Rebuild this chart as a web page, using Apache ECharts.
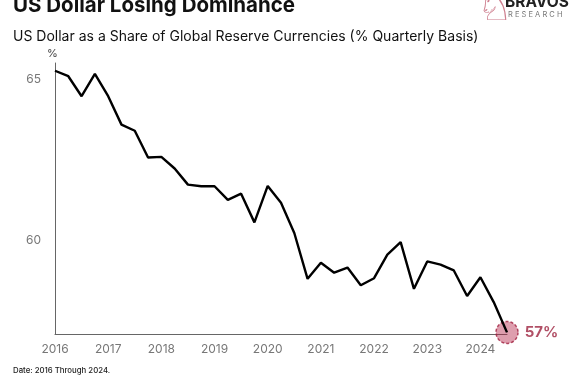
<!DOCTYPE html>
<html>
<head>
<meta charset="utf-8">
<script src="https://cdn.jsdelivr.net/npm/echarts@6/dist/echarts.min.js"></script>
<style>
  html, body { margin: 0; padding: 0; background: #fff; }
  #chart { width: 575px; height: 376px; }
</style>
</head>
<body>
<div id="chart"></div>
<script>
// quarterly share of global reserves held in USD (%)
const quarters = [
  '2016Q1', '2016Q2', '2016Q3', '2016Q4',
  '2017Q1', '2017Q2', '2017Q3', '2017Q4',
  '2018Q1', '2018Q2', '2018Q3', '2018Q4',
  '2019Q1', '2019Q2', '2019Q3', '2019Q4',
  '2020Q1', '2020Q2', '2020Q3', '2020Q4',
  '2021Q1', '2021Q2', '2021Q3', '2021Q4',
  '2022Q1', '2022Q2', '2022Q3', '2022Q4',
  '2023Q1', '2023Q2', '2023Q3', '2023Q4',
  '2024Q1', '2024Q2', '2024Q3'
]
const usdShare = [
  65.26, 65.09, 64.47, 65.16,
  64.47, 63.59, 63.40, 62.57,
  62.59, 62.23, 61.73, 61.68,
  61.68, 61.26, 61.45, 60.56,
  61.69, 61.17, 60.23, 58.81,
  59.31, 59.00, 59.16, 58.61,
  58.83, 59.56, 59.95, 58.50,
  59.35, 59.25, 59.07, 58.28,
  58.86, 58.09, 57.15
]
const yTicks = [60, 65]
const lastLabel = '57%'

const font = 'Inter, "Noto Sans", sans-serif'
const chart = echarts.init(document.getElementById('chart'))

const lastIdx = usdShare.length - 1

const option = {
  animation: false,
  textStyle: { fontFamily: font },
  grid: { left: 55, right: 68, top: 63, bottom: 42, containLabel: false },
  xAxis: {
    type: 'category',
    data: quarters,
    boundaryGap: false,
    axisLine: { lineStyle: { color: '#666', width: 1 } },
    axisTick: { show: false },
    axisLabel: {
      interval: (i) => i % 4 === 0,
      formatter: (v) => v.slice(0, 4),
      color: '#777',
      fontSize: 12,
      margin: 9
    },
    splitLine: { show: false }
  },
  yAxis: {
    type: 'value',
    min: 57.1,
    max: 65.5,
    name: '%',
    nameLocation: 'end',
    nameGap: 4,
    nameTextStyle: { color: '#444', fontSize: 11, align: 'center', padding: [0, 5, 0, 0] },
    axisLine: { show: true, lineStyle: { color: '#666', width: 1 } },
    axisTick: { show: false },
    axisLabel: {
      customValues: yTicks,
      color: '#777',
      fontSize: 12,
      margin: 14
    },
    splitLine: { show: false }
  },
  series: [
    {
      type: 'line',
      data: usdShare,
      symbol: 'none',
      lineStyle: { color: '#000', width: 2.4 },
      z: 3
    },
    {
      type: 'scatter',
      data: [[quarters[lastIdx], usdShare[lastIdx]]],
      symbolSize: 22,
      itemStyle: {
        color: 'rgba(180, 35, 70, 0.55)',
        borderColor: '#a02040',
        borderWidth: 1.5,
        borderType: [3, 2]
      },
      label: {
        show: true,
        position: 'right',
        distance: 6,
        formatter: lastLabel,
        color: '#9e2440',
        fontWeight: 'bold',
        fontSize: 15,
        fontFamily: font
      },
      z: 2
    }
  ],
  graphic: [
    {
      type: 'text', left: 13, top: -5,
      style: { text: 'US Dollar Losing Dominance', fill: '#111', font: 'bold 20.5px ' + font }
    },
    {
      type: 'text', left: 13, top: 30,
      style: { text: 'US Dollar as a Share of Global Reserve Currencies (% Quarterly Basis)', fill: '#111', font: '14px ' + font }
    },
    {
      type: 'text', left: 13, top: 367,
      style: { text: 'Date: 2016 Through 2024.', fill: '#222', font: '500 7.8px ' + font }
    },
    {
      type: 'text', left: 477, top: -10,
      style: { text: '♘', fill: '#cf8090', font: '40px "DejaVu Sans"' }
    },
    {
      type: 'text', left: 505, top: -6,
      style: { text: 'BRAVOS', fill: '#222', font: 'bold 15.5px ' + font }
    },
    {
      type: 'text', left: 508, top: 11,
      style: { text: 'R E S E A R C H', fill: '#777', font: '7.5px ' + font }
    }
  ]
}

chart.setOption(option)
</script>
</body>
</html>
